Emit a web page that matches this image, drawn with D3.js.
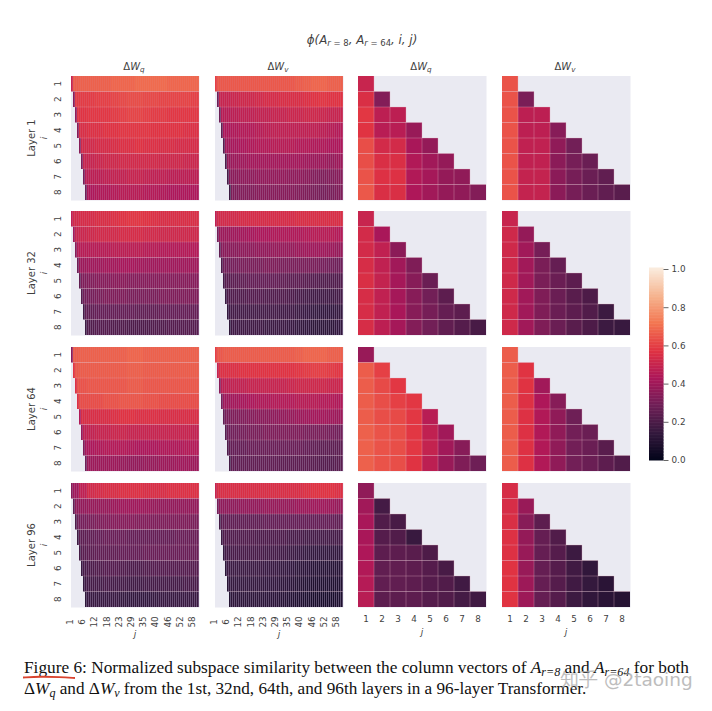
<!DOCTYPE html>
<html>
<head>
<meta charset="utf-8">
<style>
html,body{margin:0;padding:0;background:#fff}
svg{display:block}
text{font-family:"DejaVu Sans",sans-serif;fill:#3f3f3f}
.cap text,text.cap{font-family:"Liberation Serif",serif;fill:#111}
</style>
<script src="https://cdn.jsdelivr.net/npm/d3@7"></script>
</head>
<body>
<svg id="fig" width="712" height="711"></svg>
<script>
// Similarity per row i, read in blocks of four columns j (1..64).
const layer1Q = [
 [.66,.67,.67,.67,.67,.68,.68,.68,.69,.69,.69,.69,.68,.68,.68,.68],
 [.59,.59,.59,.60,.60,.61,.62,.63,.63,.62,.62,.61,.61,.61,.61,.60],
 [.57,.57,.58,.58,.58,.59,.60,.61,.61,.60,.59,.59,.58,.58,.58,.58],
 [.55,.55,.56,.56,.57,.57,.58,.58,.58,.58,.57,.57,.57,.57,.56,.56],
 [.53,.53,.53,.54,.54,.55,.56,.56,.57,.56,.56,.55,.55,.54,.54,.54],
 [.50,.50,.50,.51,.52,.52,.53,.53,.53,.53,.53,.52,.52,.52,.51,.51],
 [.46,.46,.47,.47,.48,.49,.49,.50,.50,.49,.48,.48,.47,.47,.47,.47],
 [.43,.43,.43,.44,.44,.45,.46,.46,.46,.45,.45,.44,.43,.43,.43,.43]];
const layer1V = [
 [.65,.65,.65,.65,.65,.65,.65,.65,.65,.65,.66,.67,.68,.68,.67,.67],
 [.50,.50,.51,.52,.52,.53,.54,.54,.55,.55,.55,.56,.57,.58,.57,.57],
 [.46,.46,.47,.48,.48,.49,.49,.50,.50,.51,.51,.52,.52,.51,.50,.50],
 [.42,.43,.44,.45,.45,.46,.47,.48,.48,.48,.48,.48,.48,.47,.46,.45],
 [.40,.41,.42,.43,.44,.45,.45,.46,.46,.46,.45,.45,.44,.44,.43,.43],
 [.37,.38,.39,.40,.41,.41,.41,.41,.41,.41,.41,.40,.39,.39,.38,.39],
 [.33,.34,.35,.36,.36,.37,.37,.37,.37,.36,.36,.35,.33,.32,.33,.34],
 [.30,.31,.32,.33,.33,.34,.34,.34,.34,.34,.33,.32,.31,.30,.31,.32]];
const layer32Q = [
 [.53,.54,.54,.55,.55,.56,.57,.58,.58,.57,.56,.55,.55,.55,.55,.55],
 [.50,.51,.52,.53,.53,.53,.54,.54,.54,.53,.53,.52,.52,.52,.52,.52],
 [.45,.46,.46,.46,.46,.47,.47,.47,.47,.46,.46,.45,.45,.45,.45,.45],
 [.38,.39,.40,.40,.41,.41,.42,.42,.41,.40,.40,.40,.40,.40,.40,.40],
 [.31,.32,.33,.34,.34,.35,.35,.34,.34,.34,.34,.34,.34,.34,.34,.34],
 [.28,.29,.30,.31,.32,.32,.32,.31,.31,.31,.31,.32,.32,.32,.32,.32],
 [.24,.25,.25,.26,.26,.26,.26,.26,.25,.25,.25,.26,.26,.26,.26,.26],
 [.21,.21,.21,.22,.22,.21,.21,.20,.20,.20,.21,.21,.22,.22,.22,.22]];
const layer32V = [
 [.53,.53,.53,.54,.54,.54,.54,.54,.54,.54,.55,.55,.55,.55,.55,.55],
 [.39,.39,.40,.41,.42,.43,.43,.44,.44,.44,.44,.45,.46,.46,.46,.45],
 [.34,.35,.35,.36,.36,.37,.37,.38,.38,.38,.39,.40,.40,.40,.39,.38],
 [.28,.29,.30,.31,.31,.31,.32,.32,.31,.31,.31,.31,.31,.30,.29,.28],
 [.22,.23,.24,.25,.26,.26,.26,.26,.25,.24,.24,.23,.22,.21,.21,.21],
 [.20,.20,.21,.21,.22,.22,.21,.21,.21,.20,.19,.18,.17,.17,.17,.18],
 [.17,.17,.18,.18,.18,.18,.18,.18,.17,.17,.16,.15,.14,.13,.13,.14],
 [.16,.16,.17,.17,.17,.17,.16,.16,.16,.15,.14,.13,.12,.12,.12,.13]];
const layer64Q = [
 [.66,.67,.67,.67,.67,.67,.67,.68,.68,.67,.67,.67,.67,.67,.67,.67],
 [.65,.66,.66,.66,.66,.66,.66,.67,.67,.66,.66,.66,.66,.66,.66,.66],
 [.64,.64,.65,.65,.65,.65,.65,.66,.66,.65,.65,.65,.65,.65,.65,.65],
 [.63,.63,.63,.63,.64,.64,.65,.65,.65,.64,.64,.63,.63,.63,.63,.63],
 [.55,.55,.55,.55,.55,.56,.57,.57,.56,.56,.56,.55,.55,.55,.55,.55],
 [.48,.48,.49,.50,.50,.51,.51,.50,.50,.50,.50,.50,.50,.50,.50,.49],
 [.42,.42,.43,.44,.45,.45,.45,.44,.43,.43,.43,.44,.44,.44,.45,.45],
 [.38,.38,.39,.39,.39,.39,.38,.37,.37,.38,.38,.39,.39,.40,.40,.39]];
const layer64V = [
 [.65,.66,.66,.66,.66,.66,.66,.66,.66,.66,.67,.68,.68,.68,.67,.67],
 [.56,.56,.56,.57,.57,.57,.57,.57,.57,.57,.58,.59,.60,.60,.59,.58],
 [.47,.48,.49,.49,.50,.50,.50,.50,.50,.51,.52,.52,.52,.52,.51,.51],
 [.39,.40,.41,.42,.43,.44,.44,.45,.45,.45,.46,.46,.46,.45,.45,.44],
 [.30,.31,.32,.33,.34,.35,.35,.36,.37,.38,.39,.40,.41,.41,.40,.39],
 [.27,.28,.29,.30,.31,.31,.32,.32,.32,.32,.32,.31,.31,.31,.30,.29],
 [.25,.25,.26,.26,.27,.27,.27,.27,.27,.27,.27,.26,.25,.24,.24,.24],
 [.24,.24,.25,.25,.25,.25,.25,.25,.24,.24,.24,.24,.23,.22,.22,.23]];
const layer96Q = [
 [.40,.48,.53,.54,.55,.55,.56,.56,.56,.55,.55,.55,.56,.56,.56,.56],
 [.36,.37,.38,.38,.38,.39,.40,.40,.40,.39,.38,.37,.37,.37,.37,.37],
 [.28,.30,.31,.32,.33,.34,.34,.34,.33,.33,.32,.32,.32,.32,.32,.31],
 [.23,.24,.25,.26,.27,.27,.27,.26,.26,.26,.26,.26,.26,.27,.27,.27],
 [.22,.23,.24,.25,.25,.25,.26,.26,.26,.27,.27,.27,.27,.27,.27,.27],
 [.18,.19,.20,.21,.22,.22,.21,.20,.20,.21,.22,.22,.22,.22,.22,.22],
 [.16,.17,.18,.18,.19,.18,.18,.17,.17,.18,.18,.18,.18,.18,.19,.19],
 [.14,.15,.15,.15,.15,.15,.14,.13,.13,.13,.14,.15,.15,.15,.15,.15]];
const layer96V = [
 [.55,.55,.55,.55,.55,.55,.55,.55,.55,.55,.55,.56,.57,.57,.57,.56],
 [.36,.36,.36,.37,.37,.37,.38,.38,.38,.38,.39,.39,.40,.40,.39,.38],
 [.24,.25,.25,.25,.25,.25,.26,.26,.26,.26,.26,.26,.26,.26,.26,.25],
 [.20,.21,.21,.21,.21,.20,.20,.20,.20,.19,.19,.18,.18,.18,.18,.18],
 [.18,.18,.19,.19,.19,.19,.18,.18,.17,.16,.15,.14,.13,.13,.13,.13],
 [.16,.16,.16,.16,.16,.16,.15,.15,.14,.13,.12,.11,.10,.10,.10,.10],
 [.13,.14,.14,.14,.14,.14,.13,.13,.12,.11,.10,.09,.08,.08,.08,.08],
 [.12,.12,.12,.12,.12,.12,.11,.11,.10,.09,.08,.07,.06,.06,.06,.07]];

// The first populated column of each row (j = i) sits well below its neighbours.
const edge1Q  = [.50,.34,.36,.34,.34,.32,.30,.28];
const edge1V  = [.60,.28,.28,.25,.22,.20,.18,.16];
const edge32Q = [.48,.40,.34,.28,.25,.22,.18,.16];
const edge32V = [.48,.30,.25,.20,.18,.15,.13,.12];
const edge64Q = [.35,.58,.56,.56,.44,.38,.32,.28];
const edge64V = [.60,.50,.35,.30,.25,.22,.20,.18];
const edge96Q = [.34,.25,.20,.16,.18,.15,.14,.12];
const edge96V = [.50,.30,.18,.16,.14,.11,.10,.09];

// Lower-triangular r = 8 against r = 8 similarities.
const tri1Q = [[.50],[.55,.33],[.58,.47,.47],[.57,.46,.46,.38],[.63,.53,.53,.42,.37],[.63,.55,.55,.44,.40,.37],[.64,.56,.56,.44,.41,.37,.36],[.65,.55,.55,.43,.40,.37,.36,.33]];
const tri1V = [[.64],[.64,.31],[.64,.47,.47],[.64,.47,.47,.34],[.64,.48,.48,.36,.29],[.64,.48,.48,.35,.30,.27],[.64,.49,.49,.35,.30,.27,.25],[.64,.49,.49,.35,.30,.27,.25,.23]];
const tri32Q = [[.50],[.53,.42],[.53,.48,.35],[.54,.48,.40,.32],[.55,.49,.41,.34,.27],[.54,.48,.41,.34,.29,.24],[.54,.48,.42,.34,.30,.26,.24],[.54,.47,.41,.33,.29,.25,.22,.19]];
const tri32V = [[.50],[.52,.37],[.52,.40,.30],[.52,.40,.31,.26],[.52,.40,.31,.27,.24],[.52,.40,.32,.27,.23,.20],[.52,.40,.32,.27,.24,.21,.16],[.52,.40,.32,.27,.23,.20,.16,.15]];
const tri64Q = [[.38],[.66,.60],[.66,.62,.58],[.66,.63,.60,.58],[.66,.63,.62,.58,.46],[.67,.64,.63,.58,.48,.40],[.67,.64,.63,.58,.49,.40,.34],[.67,.64,.63,.57,.47,.38,.32,.28]];
const tri64V = [[.66],[.66,.57],[.66,.57,.40],[.66,.56,.43,.34],[.66,.56,.44,.36,.28],[.66,.56,.44,.36,.29,.27],[.66,.56,.44,.36,.29,.27,.23],[.66,.56,.44,.36,.29,.27,.24,.21]];
const tri96Q = [[.36],[.40,.18],[.42,.21,.19],[.42,.22,.21,.15],[.43,.24,.24,.23,.20],[.44,.25,.25,.24,.22,.19],[.45,.25,.25,.24,.22,.21,.17],[.46,.24,.24,.24,.22,.21,.18,.17]];
const tri96V = [[.54],[.54,.38],[.55,.34,.24],[.56,.37,.26,.21],[.56,.38,.26,.22,.16],[.57,.38,.26,.22,.17,.13],[.57,.39,.26,.22,.17,.14,.11],[.57,.39,.26,.22,.16,.13,.11,.10]];

const layerNames = ["Layer 1", "Layer 32", "Layer 64", "Layer 96"];
const rowLabels = ["1","2","3","4","5","6","7","8"];
const wideTickLabels = ["1","6","12","18","23","29","35","40","46","52","58"];
const colorTicks = [0, .2, .4, .6, .8, 1];

// Seaborn "rocket" colour ramp.
const rocketStops = ["#03051a","#35193e","#701f57","#ad1759","#e13342","#f37651","#f6b48f","#faebdd"];
const color = d3.scaleLinear()
  .domain(rocketStops.map((_, i) => i / (rocketStops.length - 1)))
  .range(rocketStops)
  .interpolate(d3.interpolateRgb);

const svg = d3.select("#fig");
const colLefts = [71, 215, 358, 502];
const rowTops = [76, 211, 347, 483];
const panelW = 128, panelH = 124;
const maskFill = "#eaeaf2", seamCol = "#c8b8dc", ruleCol = "#e6b8c6";
const ruleAlpha = 0.24;
// Seams between the fine columns show far more on dark cells than on bright ones.
const seamAlpha = d3.scaleLinear().domain([0, .7]).range([.42, .07]).clamp(true);

const wideRows = [
  [layer1Q, edge1Q, layer1V, edge1V],
  [layer32Q, edge32Q, layer32V, edge32V],
  [layer64Q, edge64Q, layer64V, edge64V],
  [layer96Q, edge96Q, layer96V, edge96V]];
const triRows = [[tri1Q, tri1V], [tri32Q, tri32V], [tri64Q, tri64V], [tri96Q, tri96V]];

const y = d3.scaleBand().domain(d3.range(8)).range([0, panelH]);

function wideHeatmap(g, blocks, edge) {
  const x = d3.scaleBand().domain(d3.range(64)).range([0, panelW]);
  const cells = [];
  blocks.forEach((row, i) => d3.range(i, 64).forEach(j =>
    cells.push({i, j, v: j === i ? edge[i] : row[Math.floor(j / 4)]})));
  g.selectAll("rect.c").data(cells).join("rect").attr("class", "c")
    .attr("x", d => x(d.j)).attr("y", d => y(d.i))
    .attr("width", x.bandwidth() + .01).attr("height", y.bandwidth() + .01)
    .attr("fill", d => color(d.v));
  g.selectAll("rect.seam").data(cells).join("rect").attr("class", "seam")
    .attr("x", d => x(d.j) + 1).attr("width", 1)
    .attr("y", d => y(d.i)).attr("height", y.bandwidth() + .01)
    .attr("fill", seamCol).attr("opacity", d => seamAlpha(d.v));
  g.selectAll("line.rule").data(d3.range(1, 8)).join("line").attr("class", "rule")
    .attr("x1", i => x(i)).attr("x2", panelW).attr("y1", i => y(i)).attr("y2", i => y(i))
    .attr("stroke", ruleCol).attr("opacity", ruleAlpha);
}

function triHeatmap(g, rows) {
  const x = d3.scaleBand().domain(d3.range(8)).range([0, panelW]);
  const cells = rows.flatMap((row, i) => row.map((v, j) => ({i, j, v})));
  g.selectAll("rect.c").data(cells).join("rect").attr("class", "c")
    .attr("x", d => x(d.j)).attr("y", d => y(d.i))
    .attr("width", x.bandwidth() + .01).attr("height", y.bandwidth() + .01)
    .attr("fill", d => color(d.v));
  g.selectAll("line.rule").data(d3.range(1, 8)).join("line").attr("class", "rule")
    .attr("x1", 0).attr("x2", i => x(i) + x.bandwidth()).attr("y1", i => y(i)).attr("y2", i => y(i))
    .attr("stroke", ruleCol).attr("opacity", ruleAlpha + .08);
  g.selectAll("line.vrule").data(d3.range(1, 8)).join("line").attr("class", "vrule")
    .attr("x1", j => x(j)).attr("x2", j => x(j)).attr("y1", j => y(j - 1)).attr("y2", panelH)
    .attr("stroke", ruleCol).attr("opacity", ruleAlpha + .08);
}

rowTops.forEach((top, r) => {
  colLefts.forEach((left, c) => {
    const g = svg.append("g").attr("transform", `translate(${left},${top})`);
    g.append("rect").attr("width", panelW + .5).attr("height", panelH + .5).attr("fill", maskFill);
    if (c < 2) wideHeatmap(g, wideRows[r][c * 2], wideRows[r][c * 2 + 1]);
    else triHeatmap(g, triRows[r][c - 2]);
  });
});

// Row tick labels and layer names on the first column.
rowTops.forEach((top, r) => {
  rowLabels.forEach((lab, i) => {
    svg.append("text").attr("transform", `translate(60.5,${top + y(i) + y.bandwidth() / 2}) rotate(-90)`)
      .attr("text-anchor", "middle").attr("font-size", 8.8).text(lab);
  });
  svg.append("text").attr("transform", `translate(47,${top + panelH / 2}) rotate(-90)`)
    .attr("text-anchor", "middle").attr("font-size", 9).attr("font-style", "italic").text("i");
  svg.append("text").attr("transform", `translate(35,${top + panelH / 2}) rotate(-90)`)
    .attr("text-anchor", "middle").attr("font-size", 10).text(layerNames[r]);
});

// Column titles, with the subscript set by hand.
["q", "v", "q", "v"].forEach((sub, c) => {
  const t = svg.append("text").attr("x", colLefts[c] + panelW / 2 - 1).attr("y", 70)
    .attr("text-anchor", "middle").attr("font-size", 10);
  t.append("tspan").text("Δ");
  t.append("tspan").attr("font-style", "italic").text("W");
  t.append("tspan").attr("font-style", "italic").attr("font-size", 7.2).attr("dy", 2).text(sub);
});

// Bottom-row axes: rotated labels under the 64-column maps, plain ones under the 8-column maps.
const wideTickX = d3.scalePoint().domain(wideTickLabels).range([0, 122]);
[0, 1].forEach(c => {
  wideTickLabels.forEach(lab => {
    svg.append("text").attr("transform", `translate(${colLefts[c] + wideTickX(lab) + 2},622) rotate(-90)`)
      .attr("text-anchor", "middle").attr("font-size", 8.8).text(lab);
  });
});
const narrowX = d3.scaleBand().domain(d3.range(8)).range([0, panelW]);
[2, 3].forEach(c => {
  rowLabels.forEach((lab, k) => {
    svg.append("text").attr("x", colLefts[c] + narrowX(k) + narrowX.bandwidth() / 2).attr("y", 622)
      .attr("text-anchor", "middle").attr("font-size", 8.8).text(lab);
  });
});
[[0, 637], [1, 637], [2, 635], [3, 635]].forEach(([c, yy]) => {
  svg.append("text").attr("x", colLefts[c] + panelW / 2).attr("y", yy)
    .attr("text-anchor", "middle").attr("font-size", 9).attr("font-style", "italic").text("j");
});

// Figure title.
const title = svg.append("text").attr("x", 362).attr("y", 44).attr("text-anchor", "middle");
const titleRuns = [
  ["ϕ(", 0, 11.8, true], ["A", 0, 11.8, true], ["r", 2, 8.5, true], [" = 8", 0, 8.5, false], [",", -2, 11.8, true],
  [" A", 0, 11.8, true], ["r", 2, 8.5, true], [" = 64", 0, 8.5, false], [",", -2, 11.8, true], [" i, j)", 0, 11.8, true]];
titleRuns.forEach(([s, dy, fs, it]) => {
  title.append("tspan").attr("dy", dy).attr("font-size", fs).attr("font-style", it ? "italic" : "normal").text(s);
});

// Shared colour bar.
const barX = 649, barW = 14.5;
const barY = d3.scaleLinear().domain([0, 1]).range([460, 269]);
const levels = d3.range(0, 128).map(k => k / 127);
svg.append("g").selectAll("rect").data(levels).join("rect")
  .attr("x", barX).attr("width", barW)
  .attr("y", d => barY(d) - 1.5).attr("height", 2)
  .attr("fill", d => color(d));
const barAxis = svg.append("g").attr("transform", `translate(${barX + barW},0)`)
  .call(d3.axisRight(barY).tickValues(colorTicks).tickFormat(d3.format(".1f")).tickSize(5).tickPadding(3));
barAxis.select(".domain").remove();
barAxis.selectAll("line").attr("stroke", "#3f3f3f").attr("stroke-width", .8);
barAxis.selectAll("text").attr("font-size", 8.8).attr("font-family", '"DejaVu Sans",sans-serif').style("fill", "#3f3f3f");

// Caption.
const cap = svg.append("g").attr("class", "cap");
function capLine(yy, x0, size, runs) {
  const sub = size * .7;
  const t = cap.append("text").attr("x", x0).attr("y", yy);
  runs.forEach(([s, dy, small, it]) => {
    t.append("tspan").attr("dy", dy).attr("font-size", small ? sub : size).attr("font-style", it ? "italic" : "normal").text(s);
  });
}
capLine(673, 24, 17.3, [
  ["Figure 6: Normalized subspace similarity between the column vectors of ", 0, false, false],
  ["A", 0, false, true], ["r=8", 3, true, true], [" and ", -3, false, false],
  ["A", 0, false, true], ["r=64", 3, true, true], [" for both", -3, false, false]]);
capLine(694, 24, 17.2, [
  ["Δ", 0, false, false], ["W", 0, false, true], ["q", 3, true, true], [" and Δ", -3, false, false],
  ["W", 0, false, true], ["v", 3, true, true], [" from the 1st, 32nd, 64th, and 96th layers in a 96-layer Transformer.", -3, false, false]]);

// Hand-drawn underline and site watermark.
svg.append("path").attr("d", d3.line().curve(d3.curveBasis)([[23, 677.5], [40, 676.5], [60, 677], [75, 678]]))
  .attr("fill", "none").attr("stroke", "#d9432e").attr("stroke-width", 1.8);
svg.append("text").attr("x", 560).attr("y", 686)
  .attr("font-family", '"Noto Sans CJK SC",sans-serif').attr("font-size", 18.5)
  .style("fill", "#a8a8a8").attr("opacity", .75).text("知乎 @2taoing");
</script>
</body>
</html>
